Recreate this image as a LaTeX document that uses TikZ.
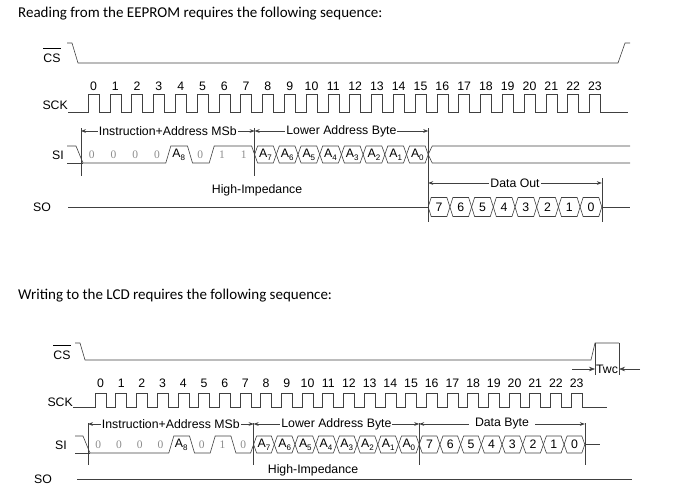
\documentclass[tikz,border=0pt]{standalone}
\usepackage{fontspec}
\setmainfont{Liberation Sans}
\newfontfamily\titlefont{Carlito}
\newfontfamily\bitfont{Liberation Serif}
\usetikzlibrary{arrows.meta}
\newcommand{\hexa}[6]{% x0 x1 ymid halfh label name
  \pgfmathsetmacro\hxa{#1}\pgfmathsetmacro\hxb{#2}%
  \draw[sig] (\hxa,#3)--({\hxa+3},{#3-#4})--({\hxb-3},{#3-#4})--(\hxb,#3)--({\hxb-3},{#3+#4})--({\hxa+3},{#3+#4})--cycle;
  \node[lab] (#6) at ({(\hxa+\hxb)/2},#3) {#5};}
\newcommand{\Asub}[1]{A\raisebox{-0.25em}{\fontsize{8}{9}\selectfont #1}}
\begin{document}
\begin{tikzpicture}[x=1pt,y=-1pt,
  sig/.style={draw=black!75,line width=0.6pt},
  lab/.style={font=\fontsize{12.3}{13}\selectfont,inner sep=0pt},
  bit/.style={font=\bitfont\fontsize{11.5}{12}\selectfont,text=black!45,inner sep=0pt},
  title/.style={font=\titlefont\fontsize{15}{17}\selectfont,anchor=west,inner sep=0pt},
  span/.style={draw=black!75,line width=0.6pt,{Stealth[length=5pt]}-{Stealth[length=5pt]}},
  vmark/.style={draw=black!75,line width=0.6pt}]
\useasboundingbox (0,0) rectangle (698,503);
% ================= TOP =================
\node[title] (t1) at (18,14) {Reading from the EEPROM requires the following sequence:};
\node[lab] (cs1) at (52,55) {\rlap{\rule[1.15em]{1.4em}{0.5pt}}CS};
\draw[sig] (67,43)--(72,43)--(78,63)--(618,63)--(625,43)--(630,43);
\node[lab,anchor=east] (sck1) at (68,105) {SCK};
\draw[sig] (68,112) foreach \i in {0,...,23} {--({88+\i*21.8},112)--({88+\i*21.8},94)--({99+\i*21.8},94)--({99+\i*21.8},112)} --(628,112);
\foreach \i in {0,...,23} \node[lab] (na\i) at ({93.5+\i*21.8},86) {\i};
\def\bx{81}\def\bp{21.7}
\node[lab,anchor=east] (si1) at (64,155) {SI};
\draw[sig] (67,146)--(76,146)--(83,163)--({\bx+4*\bp-2},163)--({\bx+4*\bp+3},146)--({\bx+5*\bp-2},146)--({\bx+5*\bp+3},163)--({\bx+6*\bp-2},163)--({\bx+6*\bp+3},146)--({\bx+8*\bp-3},146)--({\bx+8*\bp},154.5);
\draw[sig] (67,163)--(83,163);
\foreach \v/\k in {0/0,0/1,0/2,0/3,0/5,1/6,1/7} \node[bit] (ba\k) at ({\bx+(\k+0.5)*\bp},154.5) {\v};
\node[lab] (a8t) at ({\bx+4.5*\bp},154.5) {\Asub{8}};
\foreach \l [count=\c from 8] in {7,6,5,4,3,2,1,0}
  {\hexa{\bx+\c*\bp}{\bx+(\c+1)*\bp}{154.5}{8.5}{\Asub{\l}}{ha\c}}
\draw[sig] (630,146)--({\bx+16*\bp+4},146)--({\bx+16*\bp},154.5)--({\bx+16*\bp+4},163)--(630,163);
\draw[vmark] (\bx,128)--(\bx,176);
\draw[vmark] ({\bx+8*\bp},128)--({\bx+8*\bp},176);
\draw[vmark] ({\bx+16*\bp},128)--({\bx+16*\bp},222);
\draw[vmark] ({\bx+24*\bp},178)--({\bx+24*\bp},222);
\draw[span] (\bx,131)--node[fill=white,lab,inner xsep=1pt] (l1) {Instruction+Address MSb}({\bx+8*\bp},131);
\draw[span] ({\bx+8*\bp},131)--node[fill=white,lab,inner xsep=1pt] (l2) {Lower Address Byte}({\bx+16*\bp},131);
\draw[span] ({\bx+16*\bp},183)--node[fill=white,lab,inner xsep=1pt] (l3) {Data Out}({\bx+24*\bp},183);
\node[lab] (hi1) at (257,190) {High-Impedance};
\node[lab] (so1) at (42,207) {SO};
\draw[sig] (68,207)--({\bx+16*\bp},207);
\foreach \l [count=\c from 16] in {7,6,5,4,3,2,1,0}
  {\hexa{\bx+\c*\bp}{\bx+(\c+1)*\bp}{207}{9.5}{\l}{hb\c}}
\draw[sig] ({\bx+24*\bp},207)--(630,207);
% ================= BOTTOM =================
\node[title] (t2) at (18,296) {Writing to the LCD requires the following sequence:};
\node[lab] (cs2) at (62,352) {\rlap{\rule[1.15em]{1.4em}{0.5pt}}CS};
\draw[sig] (75,343)--(80,343)--(85,360)--(591,360)--(595,343)--(619,343);
\draw[vmark] (595,343)--(595,375);
\draw[vmark] (619,343)--(619,375);
\node[lab] (twc) at (607,369) {Twc};
\draw[vmark,-{Stealth[length=6pt]}] (572,369)--(595,369);
\draw[vmark,-{Stealth[length=6pt]}] (640,369)--(619,369);
\node[lab,anchor=east] (sck2) at (73,402) {SCK};
\draw[sig] (73,407) foreach \i in {0,...,23} {--({95+\i*20.7},407)--({95+\i*20.7},393)--({106+\i*20.7},393)--({106+\i*20.7},407)} --(607,407);
\foreach \i in {0,...,23} \node[lab] (nb\i) at ({100.5+\i*20.7},383) {\i};
\def\bx{88}\def\bp{20.7}
\node[lab,anchor=east] (si2) at (67,445) {SI};
\draw[sig] (75,436)--(83,436)--(90,453)--({\bx+4*\bp-2},453)--({\bx+4*\bp+3},436)--({\bx+5*\bp-2},436)--({\bx+5*\bp+3},453)--({\bx+6*\bp-2},453)--({\bx+6*\bp+3},436)--({\bx+7*\bp-2},436)--({\bx+7*\bp+3},453)--({\bx+8*\bp-3},453)--({\bx+8*\bp},444.5);
\draw[sig] (75,453)--(90,453);
\foreach \v/\k in {0/0,0/1,0/2,0/3,0/5,1/6,0/7} \node[bit] (bb\k) at ({\bx+(\k+0.5)*\bp},444.5) {\v};
\node[lab] (a8b) at ({\bx+4.5*\bp},444.5) {\Asub{8}};
\foreach \l [count=\c from 8] in {7,6,5,4,3,2,1,0}
  {\hexa{\bx+\c*\bp}{\bx+(\c+1)*\bp}{444.5}{8.5}{\Asub{\l}}{hc\c}}
\foreach \l [count=\c from 16] in {7,6,5,4,3,2,1,0}
  {\hexa{\bx+\c*\bp}{\bx+(\c+1)*\bp}{444.5}{8.5}{\l}{hd\c}}
\draw[sig] ({\bx+24*\bp},444.5)--(600,444.5);
\foreach \k in {0,8,16,24} \draw[vmark] ({\bx+\k*\bp},423)--({\bx+\k*\bp},465);
\draw[span] (\bx,424)--node[fill=white,lab,inner xsep=1pt] (l4) {Instruction+Address MSb}({\bx+8*\bp},424);
\draw[span] ({\bx+8*\bp},424)--node[fill=white,lab,inner xsep=1pt] (l5) {Lower Address Byte}({\bx+16*\bp},424);
\draw[span] ({\bx+16*\bp},424)--node[fill=white,lab,inner xsep=6pt] (l6) {Data Byte}({\bx+24*\bp},424);
\node[lab] (hi2) at (313,470) {High-Impedance};
\node[lab] (so2) at (43,479) {SO};
\draw[sig] (77,479)--(632,479);
\end{tikzpicture}
\end{document}
